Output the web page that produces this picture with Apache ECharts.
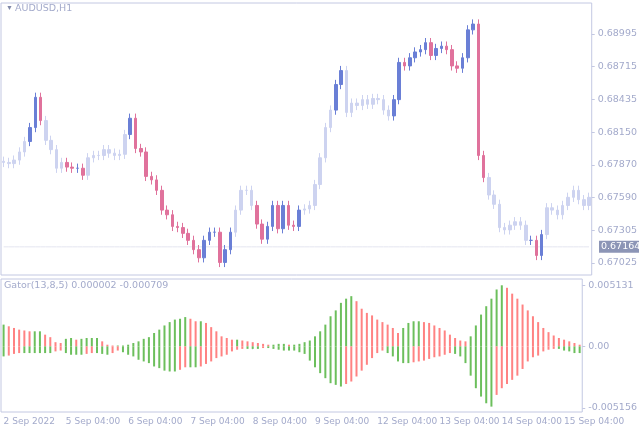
<!DOCTYPE html>
<html><head><meta charset="utf-8">
<script src="https://cdn.jsdelivr.net/npm/echarts@6/dist/echarts.min.js"></script>
<style>html,body{margin:0;padding:0;background:#fff}#c{width:640px;height:427px}</style>
</head><body><div id="c"></div>
<script>
const closes=[0.6789,0.6788,0.6791,0.6798,0.6807,0.6819,0.6845,0.6825,0.6808,0.6800,0.6784,0.6789,0.6785,0.6784,0.6784,0.6778,0.6793,0.6795,0.6795,0.6800,0.6797,0.6795,0.6796,0.6813,0.6827,0.6801,0.6798,0.6777,0.6774,0.6765,0.6748,0.6744,0.6734,0.6733,0.6728,0.6722,0.6714,0.6707,0.6722,0.6729,0.6729,0.6703,0.6714,0.6729,0.6748,0.6765,0.6765,0.6752,0.6736,0.6723,0.6734,0.6752,0.6732,0.6752,0.6735,0.6734,0.6748,0.6749,0.6752,0.6770,0.6793,0.6819,0.6834,0.6856,0.6868,0.6832,0.6840,0.6838,0.6843,0.6839,0.6844,0.6843,0.6834,0.6829,0.6843,0.6875,0.6872,0.6879,0.6884,0.6886,0.6892,0.6881,0.6887,0.6889,0.6886,0.6872,0.6870,0.6879,0.6903,0.6908,0.6795,0.6776,0.6761,0.6753,0.6733,0.6731,0.6735,0.6738,0.6735,0.6722,0.6722,0.6709,0.6727,0.6750,0.6748,0.6744,0.6752,0.6759,0.6765,0.6757,0.6752,0.6759];
const firstOpen=0.6790;
const highlightRanges=[[5,7],[12,15],[24,43],[48,56],[63,64],[74,91],[100,102]];
const gatorUpper=[1.82,1.68,1.54,1.40,1.33,1.26,1.26,1.26,0.98,0.77,0.35,0.28,0.63,0.70,0.56,0.63,0.70,0.70,0.70,0.42,0.14,0.07,0.07,0.07,0.14,0.28,0.42,0.63,0.77,1.12,1.40,1.75,2.03,2.24,2.31,2.45,2.31,2.10,2.10,1.96,1.61,1.26,0.84,0.70,0.56,0.56,0.49,0.42,0.35,0.28,0.21,0.14,0.14,0.21,0.21,0.14,0.14,0.21,0.35,0.49,0.84,1.26,1.82,2.52,3.01,3.64,3.99,4.20,3.78,3.15,2.80,2.59,2.24,2.03,1.82,1.54,1.12,1.54,1.96,2.10,2.10,2.03,1.96,1.75,1.54,1.33,0.98,0.70,0.49,0.42,0.84,1.75,2.66,3.36,3.99,4.76,5.11,4.90,4.41,3.99,3.50,3.01,2.52,2.03,1.54,1.19,0.91,0.70,0.56,0.42,0.28,0.14];
const gatorLower=[0.84,0.77,0.63,0.56,0.56,0.56,0.56,0.56,0.56,0.56,0.42,0.35,0.56,0.70,0.70,0.70,0.63,0.56,0.56,0.63,0.70,0.56,0.35,0.49,0.70,0.84,1.12,1.26,1.40,1.68,1.82,2.03,2.10,2.10,1.96,1.75,1.75,1.75,1.68,1.47,1.26,0.98,0.84,0.70,0.42,0.28,0.21,0.21,0.21,0.21,0.14,0.14,0.21,0.28,0.35,0.35,0.35,0.49,0.63,1.19,1.75,2.24,2.66,3.08,3.22,3.36,3.15,2.94,2.52,2.03,1.54,0.98,0.56,0.35,0.56,0.84,1.26,1.40,1.40,1.33,1.26,1.19,1.05,0.91,0.84,0.70,0.56,0.63,0.84,1.40,2.45,3.50,4.20,4.76,5.04,4.06,3.50,3.15,2.80,2.45,1.89,1.26,0.91,0.77,0.42,0.28,0.21,0.21,0.35,0.42,0.56,0.56];
const xTickLabels=['2 Sep 2022','5 Sep 04:00','6 Sep 04:00','7 Sep 04:00','8 Sep 04:00','9 Sep 04:00','12 Sep 04:00','13 Sep 04:00','14 Sep 04:00','15 Sep 04:00'];
const priceTicks=[0.67025,0.67305,0.67590,0.67870,0.68150,0.68435,0.68715,0.68995];
const gatorTicks=[0.005131,0,-0.005156];
const lastPrice=0.67164;

const cats=closes.map((_,i)=>i);
const isHi=i=>highlightRanges.some(r=>i>=r[0]&&i<=r[1]);
const wick=0.0004;
const candles=closes.map((c,i)=>{
  const o=i===0?firstOpen:closes[i-1];
  const d={value:[o,c,Math.min(o,c)-wick,Math.max(o,c)+wick]};
  if(!isHi(i)) d.itemStyle={color:'#cdd3f0',color0:'#cdd3f0',borderColor:'#cdd3f0',borderColor0:'#cdd3f0'};
  return d;
});
const G='#6cbf5c',R='#ff8282';
const up=gatorUpper.map((v,i)=>({value:v*0.001,itemStyle:{color:(i>0&&v<gatorUpper[i-1])?R:G}}));
const lo=gatorLower.map((v,i)=>({value:-v*0.001,itemStyle:{color:(i>0&&v<gatorLower[i-1])?R:G}}));
const lc='#a3aacb';
const FF='Tahoma, DejaVu Sans';
const ch=echarts.init(document.getElementById('c'));
ch.setOption({
  animation:false,
  grid:[{left:1,right:42,top:3,height:272,show:true,borderColor:'#c3c8e2',borderWidth:1},
        {left:1,right:42,top:279,height:133,show:true,borderColor:'#c3c8e2',borderWidth:1}],
  xAxis:[{type:'category',data:cats,gridIndex:0,boundaryGap:true,axisLine:{show:false},axisTick:{show:false},axisLabel:{show:false}},
         {type:'category',data:cats,gridIndex:1,boundaryGap:true,axisLine:{show:false},
          axisTick:{show:true,interval:11,alignWithLabel:true,lineStyle:{color:'#c3c8e2'},length:3},
          axisLabel:{interval:11,color:lc,fontSize:9,fontFamily:FF,align:'left',margin:5,hideOverlap:false,
            formatter:(v,idx)=>xTickLabels[Math.round(idx/12)]||''}}],
  yAxis:[{type:'value',gridIndex:0,position:'right',min:0.66922,max:0.69261,splitLine:{show:false},
          axisLine:{show:false},axisTick:{show:true,customValues:priceTicks,lineStyle:{color:'#c3c8e2'},length:3},
          axisLabel:{customValues:priceTicks,color:lc,fontSize:9.5,fontFamily:FF,margin:6,formatter:v=>v.toFixed(5)}},
         {type:'value',gridIndex:1,position:'right',min:-0.00549,max:0.005636,splitLine:{show:false},
          axisLine:{show:false},axisTick:{show:true,customValues:gatorTicks,lineStyle:{color:'#c3c8e2'},length:3},
          axisLabel:{customValues:gatorTicks,color:lc,fontSize:9.5,fontFamily:FF,margin:6,
            formatter:v=>v===0?'0.00':v.toFixed(6)}}],
  series:[
    {type:'line',xAxisIndex:0,yAxisIndex:0,data:cats.map(()=>lastPrice),symbol:'none',silent:true,z:1,
     lineStyle:{color:'#e4e6f0',width:1}},
    {type:'candlestick',xAxisIndex:0,yAxisIndex:0,data:candles,barWidth:3,z:3,
     itemStyle:{color:'#6a7fd6',color0:'#e0729c',borderColor:'#6a7fd6',borderColor0:'#e0729c',borderWidth:1}},
    {type:'bar',xAxisIndex:1,yAxisIndex:1,data:up,barWidth:2,stack:'g'},
    {type:'bar',xAxisIndex:1,yAxisIndex:1,data:lo,barWidth:2,stack:'g2',barGap:'-100%'}
  ],
  graphic:[
    {type:'text',left:6,top:5,style:{text:'▼',fill:'#8088a8',fontSize:7}},
    {type:'text',left:15,top:4,style:{text:'AUDUSD,H1',fill:lc,fontSize:9.5,fontFamily:FF}}
  ]
});
const py=ch.convertToPixel({yAxisIndex:0},lastPrice);
ch.setOption({graphic:[
  {type:'text',left:6,top:5,style:{text:'▼',fill:'#8088a8',fontSize:7}},
  {type:'text',left:15,top:4,style:{text:'AUDUSD,H1',fill:lc,fontSize:9.5,fontFamily:FF}},
  {type:'text',left:4,top:281,style:{text:'Gator(13,8,5) 0.000002 -0.000709',fill:lc,fontSize:9.5,fontFamily:FF}},
  {type:'rect',shape:{x:599,y:py-6,width:40,height:12},style:{fill:'#8c95b6'},z:10},
  {type:'text',x:601,y:py-5,style:{text:lastPrice.toFixed(5),fill:'#fff',fontSize:9.5,fontFamily:FF},z:11}
]});
</script></body></html>
